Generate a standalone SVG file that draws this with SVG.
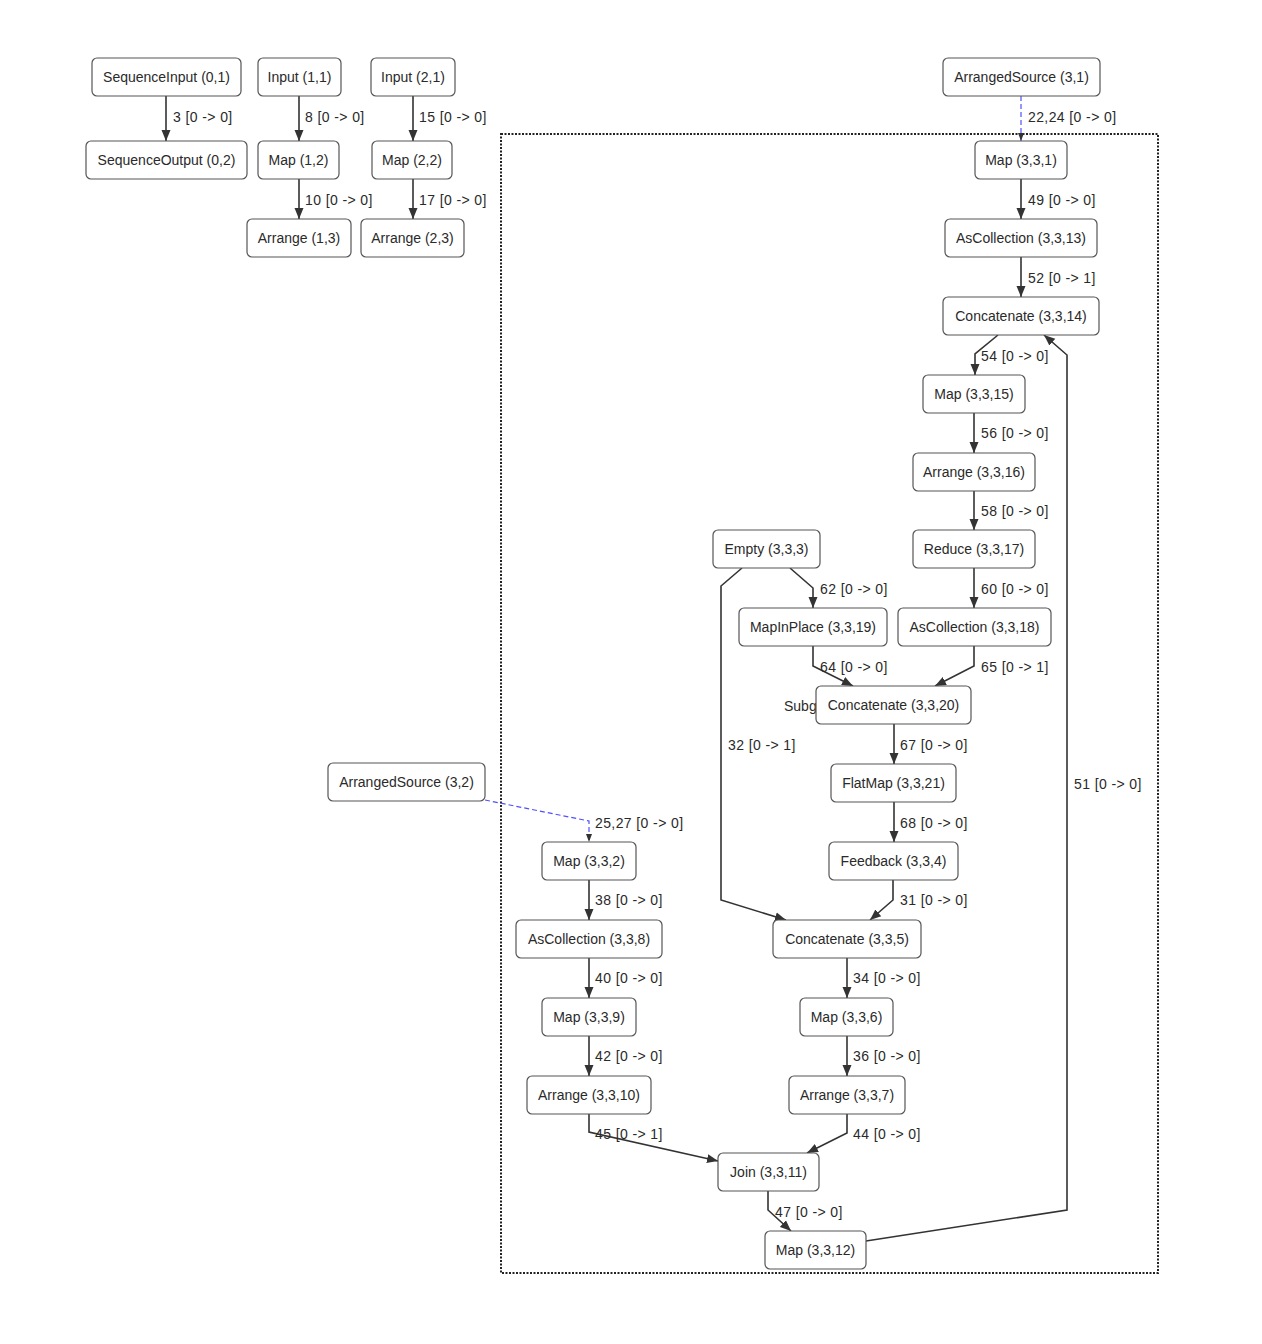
<svg xmlns="http://www.w3.org/2000/svg" width="1262" height="1344" viewBox="0 0 1262 1344">
<style>
.node rect{fill:#fff;stroke:#555;stroke-width:1.2}
text{font-family:"Liberation Sans",Arial,sans-serif;font-size:14px;fill:#2a2a2a}
.node text{text-anchor:middle}
.lbl{letter-spacing:0.4px}
.edge{fill:none;stroke:#333;stroke-width:1.6}
.dash{fill:none;stroke:#5050ff;stroke-width:1.2;stroke-dasharray:5,3}
.cluster{fill:none;stroke:#222;stroke-width:2;stroke-dasharray:2,1.5}
</style>
<defs>
<marker id="arr" markerUnits="userSpaceOnUse" markerWidth="11" markerHeight="10" viewBox="0 0 11 10" refX="11" refY="5" orient="auto">
<path d="M0,0.5 L11,5 L0,9.5 z" fill="#333"/>
</marker>
<marker id="arrs" markerUnits="userSpaceOnUse" markerWidth="8" markerHeight="7" viewBox="0 0 8 7" refX="8" refY="3.5" orient="auto">
<path d="M0,0.5 L8,3.5 L0,6.5 z" fill="#333"/>
</marker>
</defs>
<rect width="1262" height="1344" fill="#fff"/>
<rect class="cluster" x="501" y="134" width="657" height="1139"/>
<text x="784" y="711">Subg</text>

<g id="connectors">
<path class="edge" d="M166,96 L166,141" marker-end="url(#arr)"/>
<text class="lbl" x="173" y="122">3 [0 -&gt; 0]</text>
<path class="edge" d="M299,96 L299,141" marker-end="url(#arr)"/>
<text class="lbl" x="305" y="122">8 [0 -&gt; 0]</text>
<path class="edge" d="M413,96 L413,141" marker-end="url(#arr)"/>
<text class="lbl" x="419" y="122">15 [0 -&gt; 0]</text>
<path class="edge" d="M299,179 L299,219" marker-end="url(#arr)"/>
<text class="lbl" x="305" y="205">10 [0 -&gt; 0]</text>
<path class="edge" d="M413,179 L413,219" marker-end="url(#arr)"/>
<text class="lbl" x="419" y="205">17 [0 -&gt; 0]</text>

<path class="dash" d="M1021,96 L1021,141" marker-end="url(#arrs)"/>
<text class="lbl" x="1028" y="122">22,24 [0 -&gt; 0]</text>
<path class="edge" d="M1021,179 L1021,219" marker-end="url(#arr)"/>
<text class="lbl" x="1028" y="205">49 [0 -&gt; 0]</text>
<path class="edge" d="M1021,257 L1021,297" marker-end="url(#arr)"/>
<text class="lbl" x="1028" y="283">52 [0 -&gt; 1]</text>
<path class="edge" d="M998,335 L975,354 L975,375" marker-end="url(#arr)"/>
<text class="lbl" x="981" y="361">54 [0 -&gt; 0]</text>
<path class="edge" d="M974,413 L974,453" marker-end="url(#arr)"/>
<text class="lbl" x="981" y="438">56 [0 -&gt; 0]</text>
<path class="edge" d="M974,491 L974,530" marker-end="url(#arr)"/>
<text class="lbl" x="981" y="516">58 [0 -&gt; 0]</text>
<path class="edge" d="M974,568 L974,608" marker-end="url(#arr)"/>
<text class="lbl" x="981" y="594">60 [0 -&gt; 0]</text>
<path class="edge" d="M790,568 L813,588 L813,608" marker-end="url(#arr)"/>
<text class="lbl" x="820" y="594">62 [0 -&gt; 0]</text>
<path class="edge" d="M742,568 L721,586 L721,900 L786,920" marker-end="url(#arr)"/>
<text class="lbl" x="728" y="750">32 [0 -&gt; 1]</text>
<path class="edge" d="M813,646 L813,666 L853,686" marker-end="url(#arr)"/>
<text class="lbl" x="820" y="672">64 [0 -&gt; 0]</text>
<path class="edge" d="M974,646 L974,666 L935,686" marker-end="url(#arr)"/>
<text class="lbl" x="981" y="672">65 [0 -&gt; 1]</text>
<path class="edge" d="M894,724 L894,764" marker-end="url(#arr)"/>
<text class="lbl" x="900" y="750">67 [0 -&gt; 0]</text>
<path class="edge" d="M894,802 L894,842" marker-end="url(#arr)"/>
<text class="lbl" x="900" y="828">68 [0 -&gt; 0]</text>
<path class="edge" d="M893,880 L893,900 L870,920" marker-end="url(#arr)"/>
<text class="lbl" x="900" y="905">31 [0 -&gt; 0]</text>
<path class="edge" d="M847,958 L847,998" marker-end="url(#arr)"/>
<text class="lbl" x="853" y="983">34 [0 -&gt; 0]</text>
<path class="edge" d="M847,1036 L847,1076" marker-end="url(#arr)"/>
<text class="lbl" x="853" y="1061">36 [0 -&gt; 0]</text>
<path class="edge" d="M847,1114 L847,1133 L807,1153" marker-end="url(#arr)"/>
<text class="lbl" x="853" y="1139">44 [0 -&gt; 0]</text>

<path class="dash" d="M485,800 L589,821 L589,842" marker-end="url(#arrs)"/>
<text class="lbl" x="595" y="828">25,27 [0 -&gt; 0]</text>
<path class="edge" d="M589,880 L589,920" marker-end="url(#arr)"/>
<text class="lbl" x="595" y="905">38 [0 -&gt; 0]</text>
<path class="edge" d="M589,958 L589,998" marker-end="url(#arr)"/>
<text class="lbl" x="595" y="983">40 [0 -&gt; 0]</text>
<path class="edge" d="M589,1036 L589,1076" marker-end="url(#arr)"/>
<text class="lbl" x="595" y="1061">42 [0 -&gt; 0]</text>
<path class="edge" d="M589,1114 L589,1132 L718,1161" marker-end="url(#arr)"/>
<text class="lbl" x="595" y="1139">45 [0 -&gt; 1]</text>
<path class="edge" d="M768,1191 L768,1210 L791,1231" marker-end="url(#arr)"/>
<text class="lbl" x="775" y="1217">47 [0 -&gt; 0]</text>
<path class="edge" d="M866,1241 L1067,1210 L1067,355 L1044,335" marker-end="url(#arr)"/>
<text class="lbl" x="1074" y="789">51 [0 -&gt; 0]</text>
</g>

<g id="n01" class="node"><rect x="92" y="58" width="149" height="38" rx="5"/><text x="166.5" y="82">SequenceInput (0,1)</text></g>
<g id="n11" class="node"><rect x="258" y="58" width="83" height="38" rx="5"/><text x="299.5" y="82">Input (1,1)</text></g>
<g id="n21" class="node"><rect x="371" y="58" width="84" height="38" rx="5"/><text x="413" y="82">Input (2,1)</text></g>
<g id="n02" class="node"><rect x="86" y="141" width="161" height="38" rx="5"/><text x="166.5" y="165">SequenceOutput (0,2)</text></g>
<g id="n12" class="node"><rect x="258" y="141" width="81" height="38" rx="5"/><text x="298.5" y="165">Map (1,2)</text></g>
<g id="n22" class="node"><rect x="372" y="141" width="80" height="38" rx="5"/><text x="412" y="165">Map (2,2)</text></g>
<g id="n13" class="node"><rect x="247" y="219" width="104" height="38" rx="5"/><text x="299" y="243">Arrange (1,3)</text></g>
<g id="n23" class="node"><rect x="361" y="219" width="103" height="38" rx="5"/><text x="412.5" y="243">Arrange (2,3)</text></g>
<g id="n31" class="node"><rect x="943" y="58" width="157" height="38" rx="5"/><text x="1021.5" y="82">ArrangedSource (3,1)</text></g>
<g id="n331" class="node"><rect x="975" y="141" width="92" height="38" rx="5"/><text x="1021" y="165">Map (3,3,1)</text></g>
<g id="n3313" class="node"><rect x="945" y="219" width="152" height="38" rx="5"/><text x="1021" y="243">AsCollection (3,3,13)</text></g>
<g id="n3314" class="node"><rect x="943" y="297" width="156" height="38" rx="5"/><text x="1021" y="321">Concatenate (3,3,14)</text></g>
<g id="n3315" class="node"><rect x="923" y="375" width="102" height="38" rx="5"/><text x="974" y="399">Map (3,3,15)</text></g>
<g id="n3316" class="node"><rect x="913" y="453" width="122" height="38" rx="5"/><text x="974" y="477">Arrange (3,3,16)</text></g>
<g id="n333" class="node"><rect x="713" y="530" width="107" height="38" rx="5"/><text x="766.5" y="554">Empty (3,3,3)</text></g>
<g id="n3317" class="node"><rect x="913" y="530" width="122" height="38" rx="5"/><text x="974" y="554">Reduce (3,3,17)</text></g>
<g id="n3319" class="node"><rect x="739" y="608" width="148" height="38" rx="5"/><text x="813" y="632">MapInPlace (3,3,19)</text></g>
<g id="n3318" class="node"><rect x="898" y="608" width="153" height="38" rx="5"/><text x="974.5" y="632">AsCollection (3,3,18)</text></g>
<g id="n3320" class="node"><rect x="816" y="686" width="155" height="38" rx="5"/><text x="893.5" y="710">Concatenate (3,3,20)</text></g>
<g id="n3321" class="node"><rect x="831" y="764" width="125" height="38" rx="5"/><text x="893.5" y="788">FlatMap (3,3,21)</text></g>
<g id="n334" class="node"><rect x="829" y="842" width="129" height="38" rx="5"/><text x="893.5" y="866">Feedback (3,3,4)</text></g>
<g id="n335" class="node"><rect x="773" y="920" width="148" height="38" rx="5"/><text x="847" y="944">Concatenate (3,3,5)</text></g>
<g id="n336" class="node"><rect x="800" y="998" width="93" height="38" rx="5"/><text x="846.5" y="1022">Map (3,3,6)</text></g>
<g id="n337" class="node"><rect x="789" y="1076" width="116" height="38" rx="5"/><text x="847" y="1100">Arrange (3,3,7)</text></g>
<g id="n32" class="node"><rect x="328" y="763" width="157" height="38" rx="5"/><text x="406.5" y="787">ArrangedSource (3,2)</text></g>
<g id="n332" class="node"><rect x="542" y="842" width="94" height="38" rx="5"/><text x="589" y="866">Map (3,3,2)</text></g>
<g id="n338" class="node"><rect x="516" y="920" width="146" height="38" rx="5"/><text x="589" y="944">AsCollection (3,3,8)</text></g>
<g id="n339" class="node"><rect x="542" y="998" width="94" height="38" rx="5"/><text x="589" y="1022">Map (3,3,9)</text></g>
<g id="n3310" class="node"><rect x="527" y="1076" width="124" height="38" rx="5"/><text x="589" y="1100">Arrange (3,3,10)</text></g>
<g id="n3311" class="node"><rect x="718" y="1153" width="101" height="38" rx="5"/><text x="768.5" y="1177">Join (3,3,11)</text></g>
<g id="n3312" class="node"><rect x="765" y="1231" width="101" height="38" rx="5"/><text x="815.5" y="1255">Map (3,3,12)</text></g>
</svg>
